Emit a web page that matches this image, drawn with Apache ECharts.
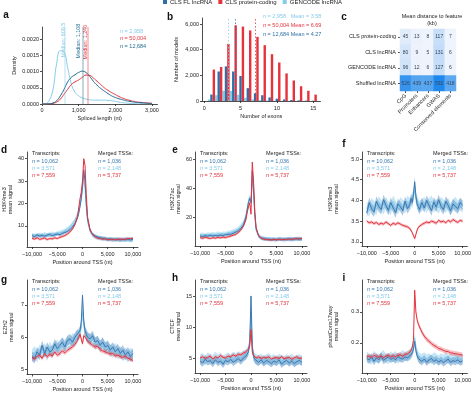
<!DOCTYPE html>
<html><head><meta charset="utf-8">
<script src="https://cdn.jsdelivr.net/npm/echarts@6/dist/echarts.min.js"></script>
<style>html,body{margin:0;padding:0;background:#fff}#c{width:474px;height:394px}</style>
</head><body><div id="c"></div>
<script>
// ---------- DATA ----------
const seriesNames = ['CLS FL lncRNA', 'CLS protein-coding', 'GENCODE lncRNA'];

// Panel a: spliced length density
const lenX = [0,100,200,300,400,500,600,700,800,900,1000,1100,1200,1300,1400,1500,1600,1700,1800,1900,2000,2100,2200,2300,2400,2500,2600,2700,2800,2900,3000];
const lenGencode = [0,0.00001,0.00012,0.00045,0.00125,0.00164,0.00160,0.00112,0.00062,0.00036,0.00025,0.00019,0.00015,0.00013,0.00012,0.00012,0.00012,0.00012,0.00011,0.00010,0.00008,0.00006,0.00004,0.00003,0.00002,0.000015,0.00001,0.00001,0.000005,0.000005,0.000003];
const lenClsFl = [0,0,0.00001,0.00003,0.0001,0.00025,0.00045,0.00068,0.00082,0.0009,0.00097,0.00101,0.00097,0.00085,0.0007,0.00058,0.00048,0.0004,0.00032,0.00025,0.0002,0.00016,0.00013,0.0001,0.00008,0.00006,0.00005,0.00004,0.00003,0.00002,0.00002];
const lenClsPc = [0,0,0,0.00002,0.00006,0.00015,0.0003,0.00045,0.0006,0.00068,0.00074,0.00082,0.00089,0.00088,0.0008,0.0007,0.0006,0.0005,0.00042,0.00035,0.00029,0.00023,0.00018,0.00014,0.00011,0.00008,0.00006,0.00005,0.00004,0.00003,0.00002];
const lenMedGencode = 609.5, lenMedFl = 1108, lenMedPc = 1240;
const aTicksX = [0,1000,2000,3000];
const aTicksY = [0,0.0005,0.001,0.0015,0.002];

// Panel b: number of exons
const exons = [1,2,3,4,5,6,7,8,9,10,11,12,13,14,15];
const exGencode = [120,450,800,780,480,250,120,70,40,25,15,10,5,3,2];
const exClsFl = [500,2300,2700,2300,1950,1000,600,450,280,180,120,80,50,30,20];
const exClsPc = [2450,2650,4450,5900,5800,5500,5000,4350,3650,3000,2150,1600,1150,800,500];
const exMeanGencode = 3.58, exMeanPc = 6.69, exMeanFl = 4.27;
const bTicksX = [0,5,10,15];
const bTicksY = [0,2000,4000,6000];

// Panel c: heatmap
const hmRows = ['CLS protein-coding','CLS lncRNA','GENCODE lncRNA','Shuffled lncRNA'];
const hmCols = ['CpG','Promoters','Enhancers','GWAS','Conserved elements'];
const hmVals = [[45,13,8,117,7],[80,9,5,131,6],[96,12,6,127,6],[526,439,437,592,418]];

// Panels d-i: position around TSS
const tss = [-10000,-9500,-9000,-8500,-8000,-7500,-7000,-6500,-6000,-5500,-5000,-4500,-4000,-3500,-3000,-2500,-2000,-1500,-1000,-750,-500,-250,0,250,500,750,1000,1500,2000,2500,3000,3500,4000,4500,5000,5500,6000,6500,7000,7500,8000,8500,9000,9500,10000];
const tssTicks = [-10000,-5000,0,5000,10000];

const dDark = [5.6,5.2,5.9,5.4,5.7,5.3,5.8,6.1,5.6,6.0,6.3,6.0,6.6,7.0,7.4,8.2,9.4,11.0,13.5,15.5,18.5,22,28,35,30,20,13,8.0,6.2,5.4,4.9,4.6,4.4,4.2,4.0,4.1,3.8,4.0,3.9,3.7,3.9,3.8,4.0,3.7,3.9];
const dLight = [5.8,5.5,5.4,6.0,5.6,6.2,5.7,6.0,6.4,6.1,6.6,6.9,7.2,7.8,8.5,9.5,10.8,12.5,15,17,19.5,22,26,32,27,18,12,7.5,5.8,5.0,4.6,4.4,4.2,4.3,3.9,4.0,3.7,3.8,3.9,3.6,3.8,3.7,3.9,3.6,3.8];
const dRed = [4.4,4.0,4.6,3.9,4.2,4.5,3.8,4.3,4.1,4.6,4.3,4.8,5.2,5.6,6.3,7.2,8.5,10.5,14,18,22,25,30,40,37,24,14,8.2,6.0,5.0,4.5,4.3,4.0,4.2,3.8,3.9,4.0,3.7,3.9,4.1,3.8,4.0,4.2,4.3,4.4];
const dTicksY = [10,20,30,40];

const eDark = [7.0,6.5,7.2,6.8,7.5,6.9,7.3,7.0,7.6,7.2,7.8,8.2,8.0,8.8,9.5,10.5,12,14.5,20,25,30,33,30,52,40,22,12,7,5.5,5.0,4.8,4.6,4.5,4.7,4.4,4.8,4.6,4.5,4.7,4.9,4.6,4.8,5.0,4.7,4.9];
const eLight = [7.5,7.8,7.2,8.0,7.6,8.2,7.8,8.5,8.0,8.6,8.3,9.0,9.4,10,10.8,11.8,13.5,16,21,26,31,34,31,46,36,20,11,7,5.6,5.2,4.9,4.7,4.8,4.6,4.5,4.9,4.7,4.6,4.8,4.7,4.5,4.7,4.9,5.0,4.8];
const eRed = [5.8,5.3,6.0,5.5,5.2,5.7,5.4,5.9,5.6,6.1,5.8,6.4,6.8,7.4,8.0,9.2,11,13.5,18,23,27,30,22,58,45,24,13,7,5.4,4.8,4.5,4.4,4.2,4.5,4.3,4.6,4.4,4.7,4.5,4.8,4.6,5.0,4.9,5.1,5.2];
const eTicksY = [20,40,60];

const fDark = [3.70,3.95,3.80,3.72,3.98,3.85,3.78,4.02,3.88,3.76,3.95,3.82,3.70,3.92,3.85,3.75,3.98,3.80,3.90,4.05,3.95,4.15,4.45,4.10,3.92,3.85,3.78,3.95,3.82,4.00,3.88,3.75,3.96,3.84,4.02,3.86,3.78,3.98,3.88,3.75,3.92,3.85,3.80,3.95,3.88];
const fLight = [3.82,3.75,3.92,3.85,3.78,3.96,3.88,3.80,3.95,3.85,3.78,3.98,3.86,3.80,3.94,3.88,3.82,3.98,3.92,3.96,4.05,4.10,4.30,4.05,3.98,3.90,3.85,3.88,3.95,3.84,3.92,3.98,3.86,3.90,3.82,3.95,3.88,3.84,3.92,3.80,3.88,3.95,3.86,3.90,3.84];
const fRed = [3.50,3.46,3.48,3.44,3.47,3.42,3.45,3.43,3.48,3.44,3.40,3.45,3.42,3.46,3.43,3.40,3.38,3.36,3.32,3.28,3.22,3.15,3.08,3.18,3.28,3.35,3.38,3.42,3.45,3.48,3.46,3.50,3.48,3.45,3.52,3.48,3.50,3.46,3.52,3.48,3.54,3.50,3.47,3.52,3.50];
const fTicksY = [3.0,3.5,4.0,4.5,5.0];

const gDark = [5.40,5.35,5.55,5.45,5.75,5.50,5.70,5.55,5.60,5.80,5.65,5.75,5.85,5.70,5.90,5.95,5.85,6.00,6.10,6.05,6.20,6.45,7.30,6.50,6.20,6.10,6.00,5.95,6.05,5.85,5.90,5.75,5.85,5.70,5.75,5.60,5.70,5.55,5.65,5.50,5.60,5.45,5.55,5.40,5.50];
const gLight = [5.45,5.55,5.40,5.60,5.50,5.65,5.45,5.70,5.55,5.65,5.75,5.60,5.80,5.75,5.85,5.80,5.95,5.90,6.05,6.10,6.15,6.30,6.80,6.40,6.15,6.05,6.00,5.90,5.95,5.80,5.85,5.70,5.80,5.65,5.70,5.60,5.55,5.65,5.50,5.55,5.45,5.50,5.40,5.50,5.45];
const gRed = [5.38,5.32,5.42,5.45,5.35,5.50,5.40,5.48,5.42,5.55,5.45,5.50,5.58,5.52,5.60,5.65,5.70,5.78,5.90,6.00,6.10,5.95,5.80,6.05,6.10,5.95,5.88,5.82,5.75,5.70,5.72,5.62,5.58,5.55,5.52,5.48,5.50,5.42,5.45,5.40,5.38,5.42,5.35,5.32,5.28];
const gTicksY = [5,6,7];

const hDark = [4.5,4.2,4.8,4.4,4.6,4.1,4.7,4.3,4.5,4.0,4.6,4.4,4.8,4.3,4.6,4.9,4.5,5.0,5.3,5.6,6.0,7.5,15,7.0,5.2,4.8,4.5,4.3,4.7,4.2,4.6,4.4,4.1,4.5,4.3,4.7,4.0,4.4,4.6,4.2,4.5,4.1,4.4,4.6,4.3];
const hLight = [4.8,5.0,4.6,5.1,4.9,4.7,5.2,4.8,5.0,4.6,4.9,5.1,4.8,5.2,5.0,5.3,5.1,5.4,5.6,5.9,6.3,7.8,12.5,6.8,5.3,5.0,4.8,4.7,4.9,4.6,4.8,5.0,4.6,4.8,4.5,4.9,4.7,4.5,4.8,4.6,4.9,4.5,4.7,4.8,4.6];
const hRed = [5.0,5.2,4.9,5.1,5.3,4.8,5.2,5.0,5.4,5.1,5.0,5.3,5.2,5.5,5.3,5.6,5.5,5.8,6.0,6.2,6.4,7.0,9.6,6.0,5.4,5.1,5.0,5.2,4.9,5.1,5.0,5.2,4.8,5.0,5.1,4.9,5.2,4.9,5.0,5.1,4.8,5.0,5.2,4.9,5.0];
const hTicksY = [5,10,15];

const iDark = [0.150,0.145,0.155,0.140,0.152,0.146,0.158,0.143,0.150,0.155,0.147,0.152,0.145,0.156,0.150,0.148,0.155,0.152,0.158,0.160,0.168,0.180,0.205,0.175,0.160,0.150,0.145,0.140,0.148,0.138,0.145,0.150,0.140,0.146,0.138,0.144,0.136,0.142,0.148,0.137,0.143,0.140,0.146,0.138,0.142];
const iLight = [0.158,0.150,0.145,0.160,0.152,0.148,0.156,0.162,0.150,0.146,0.158,0.152,0.160,0.148,0.155,0.162,0.156,0.160,0.165,0.170,0.178,0.192,0.215,0.185,0.168,0.158,0.152,0.150,0.155,0.148,0.152,0.146,0.155,0.150,0.145,0.152,0.148,0.155,0.146,0.152,0.148,0.154,0.145,0.150,0.148];
const iRed = [0.155,0.158,0.152,0.160,0.156,0.154,0.158,0.153,0.157,0.160,0.155,0.158,0.156,0.160,0.162,0.158,0.163,0.165,0.170,0.176,0.185,0.210,0.370,0.300,0.275,0.262,0.252,0.235,0.222,0.212,0.205,0.198,0.192,0.188,0.182,0.180,0.176,0.173,0.172,0.168,0.167,0.165,0.164,0.162,0.161];
const iTicksY = [0.2,0.3];

// band half-widths (dark, light, red)
const bandD = [0.8,1.0,0.6], bandE = [1.2,1.5,0.9], bandF = [0.12,0.14,0.04];
const bandG = [0.15,0.18,0.07], bandH = [0.6,0.8,0.3], bandI = [0.012,0.015,0.008];

const nTranscripts = ['10,062','3,571','7,559'];
const nMerged = ['1,036','2,148','5,737'];

// ---------- STYLE ----------
const FONT = 'Liberation Sans, Arial, Helvetica, sans-serif';
const C_DARK = '#2f6fa6', C_RED = '#e5323c', C_LIGHT = '#86cbea';
const C_DARK_LN = '#3a78b0';
const AX = '#222';
const FS = 5.5;

function fmtNum(v) {
  const s = Math.abs(v).toLocaleString('en-US');
  return (v < 0 ? '\u2212' : '') + s;
}

const grids = [], xAxes = [], yAxes = [], series = [], graphics = [];

function baseAxis(extra) {
  return Object.assign({
    axisLine: {show: true, onZero: false, lineStyle: {color: AX, width: 0.8}},
    axisTick: {show: true, length: 2, lineStyle: {color: AX, width: 0.8}},
    axisLabel: {fontSize: FS, color: AX, fontFamily: FONT},
    splitLine: {show: false},
    nameTextStyle: {fontSize: FS, color: AX, fontFamily: FONT, lineHeight: 6.5}
  }, extra);
}

// grid a (0)
grids.push({left: 42, top: 27, width: 115.5, height: 77});
xAxes.push(baseAxis({gridIndex: 0, type: 'value', min: 0, max: 3150,
  axisTick: {show: true, length: 2, customValues: aTicksX, lineStyle: {color: AX, width: 0.8}},
  axisLabel: {customValues: aTicksX, formatter: fmtNum, fontSize: FS, color: AX, fontFamily: FONT, margin: 3},
  name: 'Spliced length (nt)', nameLocation: 'middle', nameGap: 11}));
yAxes.push(baseAxis({gridIndex: 0, type: 'value', min: 0, max: 0.00237,
  axisTick: {show: true, length: 2, customValues: aTicksY, lineStyle: {color: AX, width: 0.8}},
  axisLabel: {customValues: aTicksY, formatter: v => v.toFixed(4), fontSize: FS, color: AX, fontFamily: FONT, margin: 3},
  name: 'Density', nameLocation: 'middle', nameGap: 24}));

// grid b (1)
grids.push({left: 202, top: 18, width: 118.5, height: 83});
xAxes.push(baseAxis({gridIndex: 1, type: 'value', min: -0.3, max: 16,
  axisTick: {show: true, length: 2, customValues: bTicksX, lineStyle: {color: AX, width: 0.8}},
  axisLabel: {customValues: bTicksX, fontSize: FS, color: AX, fontFamily: FONT, margin: 4},
  name: 'Number of exons', nameLocation: 'middle', nameGap: 12}));
yAxes.push(baseAxis({gridIndex: 1, type: 'value', min: 0, max: 6470,
  axisTick: {show: true, length: 2, customValues: bTicksY, lineStyle: {color: AX, width: 0.8}},
  axisLabel: {customValues: bTicksY, formatter: fmtNum, fontSize: FS, color: AX, fontFamily: FONT, margin: 3},
  name: 'Number of models', nameLocation: 'middle', nameGap: 22}));

// grid c (2)
grids.push({left: 400, top: 29, width: 56, height: 62});
xAxes.push({gridIndex: 2, type: 'category', data: hmCols, position: 'bottom',
  axisLine: {show: false}, axisTick: {show: true, length: 2, alignWithLabel: true, lineStyle: {color: AX, width: 0.8}},
  axisLabel: {rotate: 45, fontSize: FS, color: AX, fontFamily: FONT, margin: 4, interval: 0}, splitLine: {show: false}});
yAxes.push({gridIndex: 2, type: 'category', data: hmRows, inverse: true,
  axisLine: {show: false}, axisTick: {show: true, length: 2, alignWithLabel: true, lineStyle: {color: AX, width: 0.8}},
  axisLabel: {fontSize: FS, color: AX, fontFamily: FONT, margin: 4, interval: 0}, splitLine: {show: false}});

// TSS panels
const tssPanels = [
  {left: 27, top: 152, width: 111, height: 95, min: 0.5, max: 43, ticks: dTicksY, dec: 0, name: 'H3K4me3\nmean signal', gap: 11, data: [dDark, dLight, dRed], band: bandD, letter: 'd', lx: 4, ly: 150},
  {left: 195, top: 152, width: 112, height: 94, min: 0, max: 65, ticks: eTicksY, dec: 0, name: 'H3K27ac\nmean signal', gap: 12, data: [eDark, eLight, eRed], band: bandE, letter: 'e', lx: 175, ly: 150},
  {left: 362, top: 152, width: 108, height: 94, min: 2.9, max: 5.17, ticks: fTicksY, dec: 1, name: 'H3K9me3\nmean signal', gap: 22, data: [fDark, fLight, fRed], band: bandF, letter: 'f', lx: 344, ly: 144},
  {left: 27, top: 280, width: 111, height: 95, min: 4.85, max: 7.77, ticks: gTicksY, dec: 0, name: 'EZH2\nmean signal', gap: 12, data: [gDark, gLight, gRed], band: bandG, letter: 'g', lx: 4, ly: 280},
  {left: 195, top: 280, width: 112, height: 93, min: 2.58, max: 17.58, ticks: hTicksY, dec: 0, name: 'CTCF\nmean signal', gap: 13, data: [hDark, hLight, hRed], band: bandH, letter: 'h', lx: 175, ly: 278},
  {left: 362, top: 280, width: 108, height: 93, min: 0.103, max: 0.403, ticks: iTicksY, dec: 1, name: 'phastCons17way\nmean signal', gap: 22, data: [iDark, iLight, iRed], band: bandI, letter: 'i', lx: 344, ly: 278}
];

// series for a
const aPairs = [[lenGencode, C_LIGHT, lenMedGencode, 'a-gen'], [lenClsPc, C_RED, lenMedPc, 'a-pc'], [lenClsFl, '#1f6b8e', lenMedFl, 'a-fl']];
aPairs.forEach(([ys, col, med, nm]) => {
  series.push({type: 'line', name: nm, xAxisIndex: 0, yAxisIndex: 0, smooth: true, symbol: 'none',
    data: lenX.map((x, i) => [x, ys[i]]), lineStyle: {color: col, width: 1}, itemStyle: {color: col}, z: 3,
    markLine: {silent: true, symbol: ['none', 'none'], label: {show: false}, animation: false,
      lineStyle: {color: col, width: 1.6, type: 'solid', opacity: 0.35}, data: [{xAxis: med}]}});
});

// series for b
const bSets = [[seriesNames[2], exGencode, C_LIGHT, exMeanGencode], [seriesNames[0], exClsFl, C_DARK, exMeanFl], [seriesNames[1], exClsPc, C_RED, exMeanPc]];
bSets.forEach(([nm, ys, col, mean]) => {
  series.push({type: 'bar', name: nm, xAxisIndex: 1, yAxisIndex: 1, barWidth: 2.4, barGap: '0%',
    data: exons.map((x, i) => [x, ys[i]]), itemStyle: {color: col},
    markLine: {silent: true, symbol: ['none', 'none'], label: {show: false}, animation: false,
      lineStyle: {color: col, width: 0.8, type: [1.5, 2]}, data: [{xAxis: mean}]}});
});

// heatmap c
const hmData = [];
hmVals.forEach((row, r) => row.forEach((v, c) => hmData.push([c, r, v])));
const hmIndex = series.length;
series.push({type: 'heatmap', xAxisIndex: 2, yAxisIndex: 2, data: hmData,
  label: {show: true, fontSize: 5, fontFamily: FONT, color: '#3b4657', formatter: p => p.value[2]}});

// TSS panels
const txtColors = [C_DARK_LN, C_LIGHT, C_RED];
tssPanels.forEach((p, k) => {
  const gi = grids.length;
  grids.push({left: p.left, top: p.top, width: p.width, height: p.height});
  xAxes.push(baseAxis({gridIndex: gi, type: 'value', min: -11000, max: 11000,
    axisTick: {show: true, length: 2, customValues: tssTicks, lineStyle: {color: AX, width: 0.8}},
    axisLabel: {customValues: tssTicks, formatter: fmtNum, fontSize: FS, color: AX, fontFamily: FONT, margin: 4},
    name: 'Position around TSS (nt)', nameLocation: 'middle', nameGap: 12}));
  yAxes.push(baseAxis({gridIndex: gi, type: 'value', min: p.min, max: p.max,
    axisTick: {show: true, length: 2, customValues: p.ticks, lineStyle: {color: AX, width: 0.8}},
    axisLabel: {customValues: p.ticks, formatter: v => v.toFixed(p.dec), fontSize: FS, color: AX, fontFamily: FONT, margin: 3},
    name: p.name, nameLocation: 'middle', nameGap: p.gap}));
  const lineCols = [C_DARK_LN, C_LIGHT, C_RED];
  const bandCols = ['rgba(70,130,190,0.45)', 'rgba(140,205,235,0.5)', 'rgba(230,70,80,0.35)'];
  // bands (polygon through the axis scales)
  [1, 0, 2].forEach(j => {
    const ys = p.data[j], h = p.band[j], col = bandCols[j];
    series.push({type: 'custom', xAxisIndex: gi, yAxisIndex: gi, silent: true, z: 1,
      data: tss.map((x, i) => [x, ys[i]]), encode: {x: 0, y: 1},
      renderItem: (params, api) => {
        if (params.dataIndex !== 0) return null;
        const up = tss.map((x, i) => api.coord([x, ys[i] + h]));
        const lo = tss.map((x, i) => api.coord([x, ys[i] - h])).reverse();
        return {type: 'polygon', shape: {points: up.concat(lo)}, style: {fill: col}, silent: true};
      }});
  });
  // lines
  [1, 0, 2].forEach(j => {
    const ys = p.data[j];
    series.push({type: 'line', xAxisIndex: gi, yAxisIndex: gi, symbol: 'none', silent: true, z: 2,
      data: tss.map((x, i) => [x, ys[i]]), lineStyle: {color: lineCols[j], width: 1}});
  });
  // annotations
  const tx = p.left + 5, mx = p.left + 71, ty = p.top + 1;
  graphics.push(text(tx, ty, 'Transcripts:', '#222'));
  graphics.push(text(mx, ty, 'Merged TSSs:', '#222'));
  [0, 1, 2].forEach(j => {
    graphics.push(ntext(tx, ty + 8 + j * 7, 'n', ' = ' + nTranscripts[j], txtColors[j]));
    graphics.push(ntext(mx, ty + 8 + j * 7, 'n', ' = ' + nMerged[j], txtColors[j]));
  });
  graphics.push(letter(p.lx, p.ly, p.letter));
});

function text(x, y, s, col, extra) {
  return Object.assign({type: 'text', x: x, y: y, silent: true, z: 100,
    style: {text: s, fill: col, fontSize: FS, fontFamily: FONT, textAlign: 'left', textVerticalAlign: 'middle'}}, extra || {});
}
function ntext(x, y, n, rest, col) {
  return {type: 'text', x: x, y: y, silent: true, z: 100,
    style: {text: '{i|' + n + '}{r|' + rest + '}', fill: col, fontSize: FS, fontFamily: FONT, textVerticalAlign: 'middle',
      rich: {i: {fontStyle: 'italic', fill: col, fontSize: FS, fontFamily: FONT}, r: {fill: col, fontSize: FS, fontFamily: FONT}}}};
}
function letter(x, y, s) {
  return {type: 'text', x: x, y: y, silent: true, z: 100,
    style: {text: s, fill: '#111', fontSize: 10, fontWeight: 'bold', fontFamily: FONT, textAlign: 'center', textVerticalAlign: 'middle'}};
}

// panel a annotations
graphics.push(letter(6, 15, 'a'));
graphics.push(ntext(120, 31, 'n', ' = 2,958', C_LIGHT));
graphics.push(ntext(120, 38.5, 'n', ' = 50,004', C_RED));
graphics.push(ntext(120, 46, 'n', ' = 12,684', '#1f6b8e'));
graphics.push({type: 'text', x: 63, y: 40, rotation: Math.PI / 2, silent: true,
  style: {text: 'Median: 609.5', fill: C_LIGHT, fontSize: FS, fontFamily: FONT, textAlign: 'center', textVerticalAlign: 'middle'}});
graphics.push({type: 'text', x: 78, y: 41, rotation: Math.PI / 2, silent: true,
  style: {text: 'Median: 1,108', fill: '#1f6b8e', fontSize: FS, fontFamily: FONT, textAlign: 'center', textVerticalAlign: 'middle'}});
graphics.push({type: 'text', x: 85, y: 42, rotation: Math.PI / 2, silent: true,
  style: {text: 'Median: 1,240', fill: C_RED, fontSize: FS, fontFamily: FONT, textAlign: 'center', textVerticalAlign: 'middle'}});

// panel b annotations
graphics.push(letter(170, 17, 'b'));
graphics.push(ntext(263, 16, 'n', ' = 2,958   Mean = 3.58', C_LIGHT));
graphics.push(ntext(263, 25, 'n', ' = 50,004 Mean = 6.69', C_RED));
graphics.push(ntext(263, 34, 'n', ' = 12,684 Mean = 4.27', C_DARK));

// panel c annotations
graphics.push(letter(344, 17, 'c'));
graphics.push({type: 'text', x: 432, y: 16, silent: true,
  style: {text: 'Mean distance to feature', fill: '#222', fontSize: FS, fontFamily: FONT, textAlign: 'center', textVerticalAlign: 'middle'}});
graphics.push({type: 'text', x: 432, y: 23, silent: true,
  style: {text: '(kb)', fill: '#222', fontSize: FS, fontFamily: FONT, textAlign: 'center', textVerticalAlign: 'middle'}});

const chart = echarts.init(document.getElementById('c'), null, {renderer: 'canvas'});
chart.setOption({
  animation: false,
  backgroundColor: '#fff',
  textStyle: {fontFamily: FONT},
  legend: {data: seriesNames, top: -1, left: 163, itemWidth: 4, itemHeight: 4, itemGap: 6, icon: 'rect',
    textStyle: {fontSize: 6, color: '#222', fontFamily: FONT, padding: [0, 0, 0, -2]}, padding: 0},
  grid: grids,
  xAxis: xAxes,
  yAxis: yAxes,
  visualMap: {show: false, type: 'continuous', min: 0, max: 600, seriesIndex: hmIndex, inRange: {color: ['#f1f4fc', '#1c87ec']}},
  series: series,
  graphic: graphics
});
</script></body></html>
